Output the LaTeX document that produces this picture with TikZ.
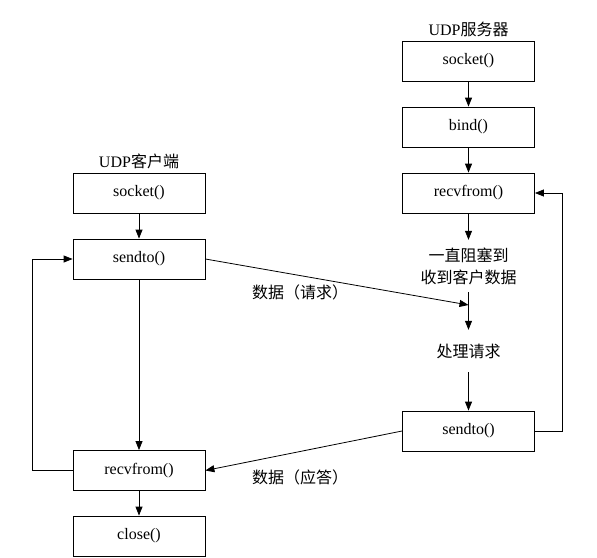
\documentclass[tikz,border=0pt]{standalone}
\usepackage{fontspec}
\setmainfont{Liberation Serif}
\newfontfamily\cjk{Noto Sans CJK SC}
\usetikzlibrary{arrows.meta}
\tikzset{
  fnbox/.style={draw, line width=0.8pt, minimum width=132pt, minimum height=40pt, inner sep=0pt},
  note/.style={align=center, inner sep=0pt},
  link/.style={line width=0.8pt, -{Triangle[length=9pt,width=7pt]}},
}
\begin{document}
\begin{tikzpicture}[x=1pt, y=-1pt, font=\fontsize{16}{22}\selectfont]
\useasboundingbox (0,0) rectangle (597,557);
% client
\node[note] (ctitle) at (139,161){UDP{\cjk 客户端}};
\node[fnbox] (csocket) at (139,193){socket()};
\node[fnbox] (csendto) at (139,259){sendto()};
\node[fnbox] (crecv) at (139,470.5){recvfrom()};
\node[fnbox] (cclose) at (139,536){close()};
\draw[link](csocket) -- (csendto);
\draw[link](csendto) -- (crecv);
\draw[link](crecv) -- (cclose);
\draw[link](crecv.west) -- ++(-40,0) |- (csendto.west);
% server
\node[note] (stitle) at (468.5,29){UDP{\cjk 服务器}};
\node[fnbox] (ssocket) at (468.5,61){socket()};
\node[fnbox] (sbind) at (468.5,127){bind()};
\node[fnbox] (srecv) at (468.5,193){recvfrom()};
\node[note, minimum height=52pt] (sblock) at (468.5,266){\cjk 一直阻塞到\\\cjk 收到客户数据};
\coordinate (meet) at (468.5,305);
\node[note, minimum height=42pt] (sproc) at (468.5,351){\cjk 处理请求};
\node[fnbox] (ssend) at (468.5,431){sendto()};
\draw[link](ssocket) -- (sbind);
\draw[link](sbind) -- (srecv);
\draw[link](srecv) -- (sblock);
\draw[line width=0.8pt](sblock) -- (meet);
\draw[link](meet) -- (sproc);
\draw[link](sproc) -- (ssend);
\draw[link](ssend.east) -- ++(27,0) |- (srecv.east);
% data
\draw[link](csendto.east) -- (meet);
\draw[link](ssend.west) -- (crecv.east);
\node[note] (lreq) at (300,292){\cjk 数据（请求）};
\node[note] (lrep) at (300,477){\cjk 数据（应答）};
\end{tikzpicture}
\end{document}
